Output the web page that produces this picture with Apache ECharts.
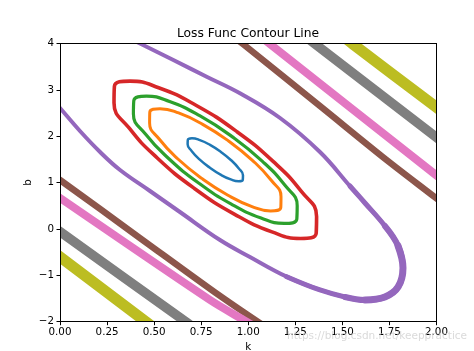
<!DOCTYPE html>
<html><head><meta charset="utf-8">
<script src="https://cdn.jsdelivr.net/npm/echarts@6/dist/echarts.min.js"></script>
<style>html,body{margin:0;padding:0;background:#fff}#c{width:474px;height:351px}</style>
</head><body><div id="c"></div>
<script>
// ---- data (k, b) ----
const titleText = 'Loss Func Contour Line';
const xName = 'k';
const yName = 'b';
const watermark = 'https://blog.csdn.net/keeppractice';

const contourBlue = [[0.971,1.061],[0.949,1.029],[0.907,1.068],[0.853,1.171],[0.795,1.324],[0.741,1.501],[0.700,1.678],[0.678,1.826],[0.679,1.923],[0.701,1.955],[0.743,1.916],[0.797,1.813],[0.855,1.660],[0.909,1.483],[0.950,1.306],[0.972,1.158]];
const contourOrange = [[1.173,0.465],[1.119,0.390],[1.020,0.482],[0.892,0.728],[0.753,1.091],[0.625,1.514],[0.528,1.934],[0.476,2.287],[0.477,2.519],[0.531,2.594],[0.630,2.502],[0.758,2.256],[0.897,1.893],[1.025,1.470],[1.122,1.050],[1.174,0.697]];
const contourGreen = [[1.258,0.214],[1.191,0.120],[1.068,0.235],[0.908,0.541],[0.736,0.992],[0.577,1.520],[0.455,2.043],[0.390,2.482],[0.392,2.770],[0.459,2.864],[0.582,2.749],[0.742,2.443],[0.914,1.992],[1.074,1.464],[1.195,0.941],[1.260,0.502]];
const contourRed = [[1.361,-0.089],[1.278,-0.205],[1.126,-0.063],[0.928,0.316],[0.714,0.874],[0.518,1.526],[0.368,2.173],[0.287,2.717],[0.289,3.073],[0.372,3.189],[0.524,3.047],[0.722,2.668],[0.936,2.110],[1.132,1.458],[1.282,0.811],[1.363,0.268]];
const contourPurple = [[-0.043,2.803],[0.000,2.609],[0.106,2.113],[0.213,1.660],[0.319,1.272],[0.478,0.819],[0.637,0.366],[0.850,-0.238],[1.009,-0.604],[1.204,-1.029],[1.381,-1.316],[1.514,-1.467],[1.620,-1.532],[1.726,-1.467],[1.796,-1.251],[1.822,-0.841],[1.796,-0.367],[1.726,0.064],[1.620,0.560],[1.540,0.927],[1.381,1.660],[1.169,2.393],[0.956,2.926],[0.779,3.284],[0.602,3.644],[0.425,4.000],[0.319,4.205]];
const brownLower = [[-0.106,1.358],[0.000,1.056],[0.425,-0.195],[0.850,-1.445],[1.116,-2.179]];
const brownUpper = [[0.892,4.226],[0.972,3.989],[1.381,2.652],[1.735,1.488],[1.997,0.668],[2.072,0.431]];
const pinkLower = [[-0.106,0.970],[0.000,0.668],[0.797,-1.532],[0.993,-2.006],[1.089,-2.243]];
const pinkUpper = [[1.036,4.248],[1.116,3.989],[1.997,1.164],[2.072,0.927]];
const grayLower = [[-0.106,0.258],[0.000,-0.059],[0.669,-2.006],[0.744,-2.243]];
const grayUpper = [[1.275,4.248],[1.355,3.989],[1.997,1.984],[2.072,1.746]];
const oliveLower = [[-0.106,-0.281],[0.000,-0.604],[0.457,-2.006],[0.531,-2.243]];
const oliveUpper = [[1.477,4.248],[1.556,3.989],[1.997,2.631],[2.072,2.393]];

const FONT = 'DejaVu Sans';
function closed(p){ return [p[p.length-1]].concat(p, [p[0]]); }
function joined(a,b){ return a.concat([[null,null]], b); }

function line(name, data, color, width, smooth){
  return {name:name, type:'line', data:data, showSymbol:false, symbol:'none', smooth:smooth, connectNulls:false,
    clip:true, silent:true, z:2, lineStyle:{color:color, width:width, cap:'round', join:'round'}, animation:false};
}

const G = {left:60, right:37.5, top:43.5, bottom:29.3};
const W = 474, H = 351;
const axisBase = {type:'value', z:60, splitLine:{show:false}};

const chart = echarts.init(document.getElementById('c'), null, {renderer:'canvas'});
chart.setOption({
  animation:false,
  backgroundColor:'#fff',
  title:{text:titleText, left:248, top:28, textAlign:'center', padding:0, z:60,
    textStyle:{fontFamily:FONT, fontSize:12.3, fontWeight:'normal', color:'#000'}},
  grid:{left:G.left, right:G.right, top:G.top, bottom:G.bottom, show:false, containLabel:false, outerBoundsMode:'none'},
  xAxis:[
    Object.assign({}, axisBase, {min:0, max:2, interval:0.25, position:'bottom', name:xName, nameLocation:'middle', nameGap:18,
      nameTextStyle:{fontFamily:FONT, fontSize:10.3, color:'#000'},
      axisLine:{show:true, onZero:false, lineStyle:{color:'#000', width:1}},
      axisTick:{show:true, inside:false, length:3.5, lineStyle:{color:'#000'}},
      axisLabel:{margin:6, fontFamily:FONT, fontSize:10.3, color:'#000', formatter:v=>v.toFixed(2)}}),
    Object.assign({}, axisBase, {min:0, max:2, interval:0.25, position:'top',
      axisLine:{show:true, onZero:false, lineStyle:{color:'#000', width:1}},
      axisTick:{show:false}, axisLabel:{show:false}})
  ],
  yAxis:[
    Object.assign({}, axisBase, {min:-2, max:4, interval:1, position:'left', name:yName, nameLocation:'middle', nameGap:27,
      nameMoveOverlap:false,
      nameTextStyle:{fontFamily:FONT, fontSize:10.3, color:'#000'},
      axisLine:{show:true, onZero:false, lineStyle:{color:'#000', width:1}},
      axisTick:{show:true, inside:false, length:3.5, lineStyle:{color:'#000'}},
      axisLabel:{margin:6, fontFamily:FONT, fontSize:10.3, color:'#000', formatter:v=>String(v).replace('-','\u2212')}}),
    Object.assign({}, axisBase, {min:-2, max:4, interval:1, position:'right',
      axisLine:{show:true, onZero:false, lineStyle:{color:'#000', width:1}},
      axisTick:{show:false}, axisLabel:{show:false}})
  ],
  graphic:[
    {type:'rect', z:50, silent:true, shape:{x:0, y:0, width:W, height:G.top}, style:{fill:'#fff'}},
    {type:'rect', z:50, silent:true, shape:{x:0, y:H-G.bottom, width:W, height:G.bottom}, style:{fill:'#fff'}},
    {type:'rect', z:50, silent:true, shape:{x:0, y:0, width:G.left, height:H}, style:{fill:'#fff'}},
    {type:'rect', z:50, silent:true, shape:{x:W-G.right, y:0, width:G.right, height:H}, style:{fill:'#fff'}},
    {type:'text', left:287, top:331, z:100, silent:true,
      style:{text:watermark, fontFamily:FONT, fontSize:10.5, fill:'rgba(205,205,205,0.75)'}}
  ],
  series:[
    line('blue', closed(contourBlue), '#1f77b4', 2.5, 0.5),
    line('orange', closed(contourOrange), '#ff7f0e', 3, 0.5),
    line('green', closed(contourGreen), '#2ca02c', 3.2, 0.5),
    line('red', closed(contourRed), '#d62728', 3.6, 0.5),
    line('purple', contourPurple, '#9467bd', 4, 0.4),
    line('purple-a', contourPurple.slice(9, 20), '#9467bd', 5, 0.4),
    line('purple-b', contourPurple.slice(11, 18), '#9467bd', 6, 0.4),
    line('purple-c', contourPurple.slice(12, 17), '#9467bd', 7, 0.4),
    line('brown', joined(brownLower, brownUpper), '#8c564b', 6.5, 0.3),
    line('pink', joined(pinkLower, pinkUpper), '#e377c2', 8, 0.3),
    line('gray', joined(grayLower, grayUpper), '#7f7f7f', 9.5, 0.3),
    line('olive', joined(oliveLower, oliveUpper), '#bcbd22', 11, 0.3)
  ]
});
</script></body></html>
